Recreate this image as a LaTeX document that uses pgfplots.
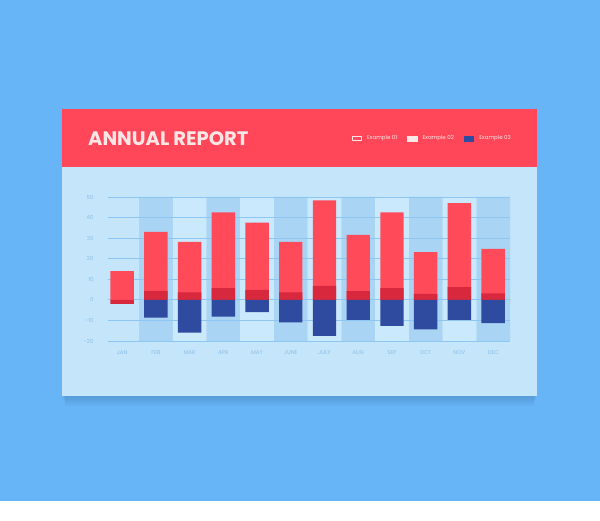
\documentclass[border=0pt]{standalone}
\usepackage{fontspec}
\usepackage{pgfplots}
\pgfplotsset{compat=1.18}
\setmainfont{Poppins}
\newfontfamily\poppins{Poppins}

\definecolor{outerbg}{HTML}{67B4F7}
\definecolor{panel}{HTML}{C4E5FA}
\definecolor{header}{HTML}{FF4759}
\definecolor{titletxt}{HTML}{FCE7E6}
\definecolor{barred}{HTML}{FF4A5A}
\definecolor{darkred}{HTML}{D7283D}
\definecolor{barblue}{HTML}{2E4B9F}
\definecolor{coldark}{HTML}{A9D4F4}
\definecolor{collight}{HTML}{CBE9FC}
\definecolor{gridc}{HTML}{8CC6F1}
\definecolor{ticktxt}{HTML}{8DC0E8}

\pgfplotsset{
  panelaxis/.style={
    at={(108pt,180pt)}, anchor=south west,
    width=402pt, height=144pt, scale only axis,
    xmin=-0.42, xmax=11.5,
    ymin=-20, ymax=50,
    ybar, bar shift=0pt,
  },
}

\begin{document}
\begin{tikzpicture}[x=1pt,y=1pt]
% page
\fill[white] (0,0) rectangle (600,521);
\fill[outerbg] (0,20) rectangle (600,521);
% card shadow
\foreach \d in {2,4,6,8,10} {
  \fill[black, opacity=0.025] (62+\d/3,125-\d) rectangle (537-\d/3,412-\d);
}
% card
\fill[panel] (62,125) rectangle (537,412);
\fill[header] (62,354) rectangle (537,412);
\node[anchor=base west, inner sep=0pt, text=titletxt,
      font=\poppins\bfseries\fontsize{19.5}{22}\selectfont] at (88,375) {ANNUAL REPORT};

% alternating month columns (background)
\begin{axis}[panelaxis, hide axis, bar width=1]
\addplot[fill=coldark, draw=none] coordinates {(1,50) (3,50) (5,50) (7,50) (9,50) (11,50)};
\addplot[fill=coldark, draw=none] coordinates {(1,-20) (3,-20) (5,-20) (7,-20) (9,-20) (11,-20)};
\addplot[fill=collight, draw=none] coordinates {(2,50) (4,50) (6,50) (8,50) (10,50)};
\addplot[fill=collight, draw=none] coordinates {(2,-20) (4,-20) (6,-20) (8,-20) (10,-20)};
\end{axis}

\begin{axis}[
  panelaxis,
  bar width=23.4pt,
  axis line style={draw=none},
  major tick length=0pt,
  xtick={0,...,11},
  xticklabels={JAN,FEB,MAR,APR,MAY,JUNE,JULY,AUG,SEP,OCT,NOV,DEC},
  ytick={-20,-10,0,10,20,30,40,50},
  ymajorgrids,
  grid style={gridc, line width=0.8pt},
  /pgf/number format/assume math mode=true,
  tick label style={font=\poppins\fontsize{5.5}{6}\selectfont, text=ticktxt},
  yticklabel style={xshift=-11pt},
  xticklabel style={yshift=-6pt},
  legend style={draw=none, fill=none, at={(1.015,1.405)}, anchor=east,
    legend columns=3, font=\poppins\fontsize{5.5}{6}\selectfont, text=titletxt,
    /tikz/every odd column/.append style={column sep=3.5pt},
    /tikz/every even column/.append style={column sep=8pt}},
  legend cell align=left,
]
\addlegendimage{legend image code/.code={\draw[titletxt, line width=0.6pt] (0pt,-2pt) rectangle (9.5pt,2pt);}}
\addlegendimage{legend image code/.code={\fill[titletxt] (0pt,-2.2pt) rectangle (9.5pt,2.2pt);}}
\addlegendimage{legend image code/.code={\fill[barblue] (0pt,-2.2pt) rectangle (9.5pt,2.2pt);}}
\legend{Example 01,Example 02,Example 03}

% Example 01 (total)
\addplot[fill=barred, draw=none, forget plot] coordinates {
  (0,14) (1,33) (2,28.2) (3,42.5) (4,37.5) (5,28.2)
  (6,48.3) (7,31.6) (8,42.5) (9,23.2) (10,47) (11,24.8)
};
% Example 02
\addplot[fill=darkred, draw=none, forget plot] coordinates {
  (0,-1.9) (1,4.4) (2,3.6) (3,5.7) (4,4.9) (5,3.6)
  (6,6.8) (7,4.2) (8,5.7) (9,2.9) (10,6.2) (11,3.2)
};
% Example 03
\addplot[fill=barblue, draw=none, forget plot] coordinates {
  (1,-8.6) (2,-15.9) (3,-8.1) (4,-6) (5,-10.9)
  (6,-17.5) (7,-9.7) (8,-12.6) (9,-14.4) (10,-9.7) (11,-11.3)
};
\end{axis}
\end{tikzpicture}
\end{document}
